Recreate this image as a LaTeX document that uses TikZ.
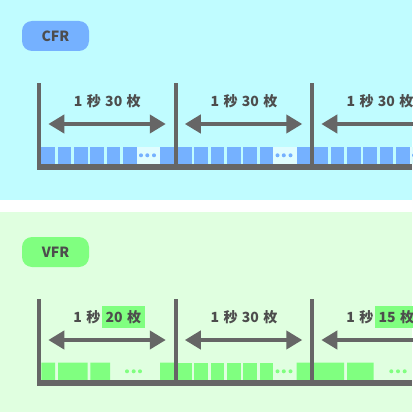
\documentclass[tikz,border=0pt]{standalone}
\usepackage{fontspec}
\setmainfont{Noto Sans CJK JP}
\usetikzlibrary{arrows.meta}
\definecolor{cfrbg}{HTML}{C0FCFF}
\definecolor{vfrbg}{HTML}{E0FFE0}
\definecolor{cfrblue}{HTML}{75B1FF}
\definecolor{vfrgreen}{HTML}{80FF80}
\definecolor{linegray}{HTML}{666666}
\definecolor{textgray}{HTML}{4D4D4D}
\definecolor{dotgap}{HTML}{E0FDFF}
\newcommand\ratefont{\bfseries\fontsize{14}{14}\selectfont\spaceskip 4.4pt\relax}
\tikzset{
  span/.style={draw=linegray,line width=4pt,{Triangle[length=16pt,width=18pt]}-{Triangle[length=16pt,width=18pt]}},
  sec/.style={draw=linegray,line width=4pt},
  rate/.style={font=\ratefont,text=textgray,inner sep=0pt},
  mark rate/.style={rate,fill=vfrgreen,inner xsep=3.5pt,minimum height=21.7pt},
  tag/.style={rounded corners=10pt,fill=#1,font=\bfseries\fontsize{14}{14}\selectfont,text=textgray,minimum width=67pt,minimum height=30pt,inner sep=0pt},
}
\begin{document}
\begin{tikzpicture}[x=1pt,y=-1pt]
      \useasboundingbox (0,0) rectangle (412,412);
      \fill[cfrbg] (0,0) rectangle (412,200);
      \fill[vfrbg] (0,212) rectangle (412,412);
      \node[tag=cfrblue] (cfr) at (55.5,36) {CFR};
      \node[tag=vfrgreen] (vfr) at (55.5,252) {VFR};
      % CFR: 30 frames in every second
      \foreach \x in {39.3,175.8,312.3} {
        \foreach \i in {0,...,5}
          \fill[cfrblue] (\x+2+16.35*\i,146.7) rectangle ++(13.7,17.3);
        \fill[dotgap] (\x+97.4,146.7) rectangle (\x+120.7,164);
        \foreach \d in {101.7,108,114.7}
          \fill[cfrblue] (\x+\d,155.3) circle (2);
        \fill[cfrblue] (\x+120.7,146.7) rectangle (\x+134.5,164);
      }
      % VFR: 20, 30 and 15 frames
      \fill[vfrgreen] (41.3,362.7) rectangle (55,380) (58,362.7) rectangle (87.7,380)
        (90.3,362.7) rectangle (110,380) (160,362.7) rectangle (174,380);
      \foreach \d in {127,133.7,140} \fill[vfrgreen] (\d,371.3) circle (2);
      \foreach \i in {0,...,5}
        \fill[vfrgreen] (177.8+16.35*\i,362.7) rectangle ++(13.7,17.3);
      \foreach \d in {277.5,283.8,290.5} \fill[vfrgreen] (\d,371.3) circle (2);
      \fill[vfrgreen] (296.5,362.7) rectangle (344,380) (347,362.7) rectangle (373.7,380);
      \foreach \d in {391.3,398,404.7} \fill[vfrgreen] (\d,371.3) circle (2);
      % seconds
      \foreach \y [count=\k from 0] in {0,216} {
        \fill[linegray] (37.3,164+\y) rectangle (412,170+\y);
        \foreach \x [count=\j from 0] in {39.3,175.8,312.3,448.8} {
          \coordinate (s\k\j) at (\x,124+\y);
          \draw[sec] (\x,83.3+\y) -- (\x,170+\y);
        }
        \draw[span] ([xshift=9pt]s\k0) -- ([xshift=-10pt]s\k1);
        \draw[span] ([xshift=9pt]s\k1) -- ([xshift=-10pt]s\k2);
        \draw[span] ([xshift=9pt]s\k2) -- ([xshift=-10pt]s\k3);
      }
      \node[rate] (r0) at (107.3,101) {1 秒 30 枚};
      \node[rate] (r1) at (244,101) {1 秒 30 枚};
      \node[rate] (r2) at (380,101) {1 秒 30 枚};
      \node[mark rate] (m0) at (102,317) [anchor=west] {20 枚};
      \node[rate,anchor=east] (r3) at (100.5,317) {1 秒};
      \node[rate] (r4) at (244,317) {1 秒 30 枚};
      \node[mark rate] (m2) at (375,317) [anchor=west] {15 枚};
      \node[rate,anchor=east] (r5) at (373.5,317) {1 秒};
    \end{tikzpicture}
\end{document}
